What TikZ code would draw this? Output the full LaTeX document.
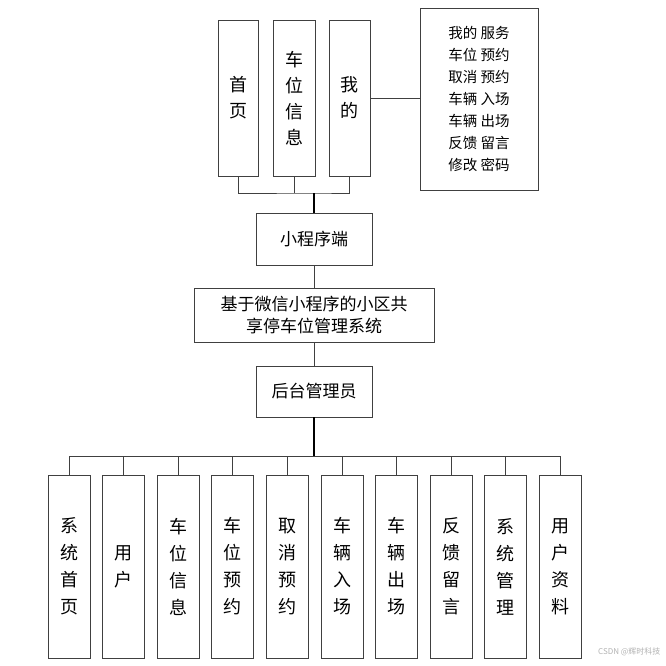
\documentclass[tikz,border=0pt]{standalone}
\usepackage{fontspec}
\setmainfont{Noto Sans CJK SC}
\begin{document}
\begin{tikzpicture}[x=1pt,y=-1pt,
 bx/.style={draw=black!75,line width=0.8pt,inner sep=0pt,align=center},
 ln/.style={draw=black!75,line width=0.8pt},
 tk/.style={draw=black,line width=1.4pt}]
\useasboundingbox (0,0) rectangle (666,665);
\node[bx,minimum width=40pt,minimum height=156pt,font=\fontsize{18}{26}\selectfont] (h) at (238,98) {首\\页};
\node[bx,minimum width=42pt,minimum height=156pt,font=\fontsize{18}{26}\selectfont] (c) at (294,98) {车\\位\\信\\息};
\node[bx,minimum width=41pt,minimum height=156pt,font=\fontsize{18}{26}\selectfont] (w) at (349.5,98) {我\\的};
\node[bx,minimum width=118pt,minimum height=182pt,font=\fontsize{14.5}{22}\selectfont] (s) at (479,99) {我的 服务\\车位 预约\\取消 预约\\车辆 入场\\车辆 出场\\反馈 留言\\修改 密码};
\draw[ln] (w.east) -- (w.east -| s.west);
\node[bx,minimum width=116pt,minimum height=52pt,font=\fontsize{17}{22}\selectfont] (m) at (314,239) {小程序端};
\node[bx,minimum width=240pt,minimum height=54pt,font=\fontsize{17}{22}\selectfont] (sys) at (314,315) {基于微信小程序的小区共\\享停车位管理系统};
\node[bx,minimum width=116pt,minimum height=51pt,font=\fontsize{17}{22}\selectfont] (a) at (314,391.5) {后台管理员};
\coordinate (tb) at (314,193);
\draw[ln] (h.south) |- (tb) -| (w.south);
\draw[ln] (c.south) -- (c.south |- tb);
\draw[tk] (tb) -- (m.north);
\draw[ln] (m.south) -- (sys.north);
\draw[ln] (sys.south) -- (a.north);
\coordinate (bb) at (314,456);
\draw[tk] (a.south) -- (bb);
\foreach \t [count=\i from 0] in {系\\统\\首\\页,用\\户,车\\位\\信\\息,车\\位\\预\\约,取\\消\\预\\约,车\\辆\\入\\场,车\\辆\\出\\场,反\\馈\\留\\言,系\\统\\管\\理,用\\户\\资\\料}{
 \node[bx,minimum width=42pt,minimum height=183pt,font=\fontsize{18}{27}\selectfont] (b\i) at ({69+54.6*\i},566.5) {\t};
 \draw[ln] (b\i.north) -- (b\i.north |- bb);
}
\draw[ln] (b0.north |- bb) -- (b9.north |- bb);
\node[text=black!30,font=\fontsize{8}{10}\selectfont,anchor=east] (wm) at (664,652) {CSDN @辉时科技};
\end{tikzpicture}
\end{document}
